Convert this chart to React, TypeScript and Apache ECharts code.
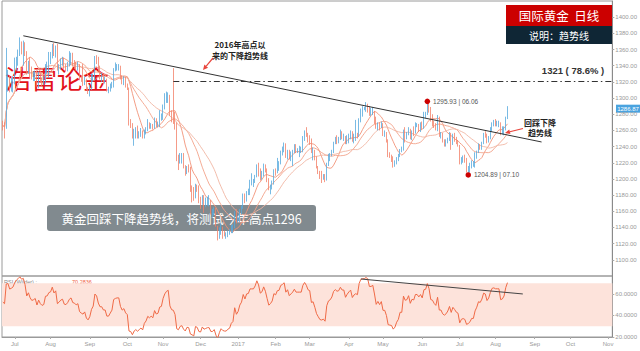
import React, { useEffect, useRef } from "react";
import * as echarts from "echarts";

// Daily gold bars per month: [close, high, low]; open = previous close
const jun16 = [[1266,1272,1260],[1263,1270,1250],[1322,1362,1262],[1324,1335,1308],[1313,1328,1307],[1316,1325,1308],[1321,1327,1307]];
const jul16 = [[1339,1350,1317],[1350,1351,1334],[1357,1360,1340],[1366,1375,1352],[1362,1370,1354],[1366,1371,1340],[1356,1369,1352],[1334,1358,1329],[1344,1346,1330],[1333,1350,1325],[1327,1339,1323],[1329,1333,1321],[1332,1334,1321],[1318,1334,1314],[1330,1333,1312],[1322,1331,1319],[1318,1325,1315],[1320,1327,1316],[1340,1342,1318],[1341,1345,1330],[1350,1357,1325]];
const aug16 = [[1352,1357,1342],[1366,1367,1349],[1356,1368,1352],[1362,1365,1350],[1336,1367,1334],[1340,1342,1329],[1345,1349,1335],[1347,1351,1340],[1337,1350,1336],[1336,1342,1333],[1340,1345,1333],[1347,1358,1339],[1350,1356,1341],[1342,1356,1339],[1341,1347,1336],[1338,1345,1334],[1340,1345,1334],[1326,1342,1322],[1323,1328,1320],[1321,1342,1315],[1324,1327,1316],[1312,1324,1310],[1308,1314,1305]];
const sep16 = [[1312,1316,1302],[1322,1330,1310],[1327,1330,1320],[1350,1352,1322],[1347,1353,1342],[1335,1351,1333],[1328,1340,1323],[1328,1331,1320],[1322,1330,1318],[1322,1327,1318],[1310,1324,1308],[1310,1314,1306],[1314,1318,1308],[1318,1320,1312],[1335,1337,1313],[1337,1344,1333],[1338,1342,1334],[1338,1342,1334],[1326,1340,1323],[1320,1328,1317],[1322,1327,1316],[1315,1326,1313]];
const oct16 = [[1312,1318,1310],[1268,1313,1266],[1266,1274,1263],[1252,1269,1250],[1257,1262,1241],[1259,1264,1250],[1253,1266,1250],[1255,1259,1250],[1257,1263,1252],[1251,1260,1250],[1259,1261,1250],[1262,1264,1255],[1268,1274,1259],[1265,1270,1262],[1267,1269,1262],[1264,1268,1261],[1273,1276,1262],[1267,1275,1264],[1268,1271,1264],[1276,1285,1264],[1277,1281,1272]];
const nov16 = [[1289,1292,1273],[1297,1306,1286],[1302,1308,1294],[1304,1307,1294],[1282,1290,1278],[1275,1285,1270],[1274,1337,1268],[1266,1283,1261],[1225,1270,1222],[1221,1230,1211],[1226,1232,1219],[1227,1232,1219],[1215,1232,1213],[1208,1217,1204],[1213,1216,1206],[1212,1218,1208],[1187,1215,1184],[1183,1192,1171],[1178,1190,1173],[1191,1194,1176],[1188,1193,1184],[1172,1192,1170]];
const dec16 = [[1170,1178,1163],[1177,1180,1168],[1169,1180,1158],[1170,1177,1165],[1171,1178,1167],[1171,1180,1166],[1159,1174,1156],[1159,1163,1152],[1161,1165,1155],[1142,1164,1141],[1127,1142,1124],[1134,1140,1126],[1139,1144,1131],[1133,1141,1126],[1131,1136,1129],[1131,1134,1126],[1133,1136,1128],[1134,1138,1131],[1139,1143,1133],[1141,1144,1133],[1158,1160,1139],[1146,1163,1145]];
const jan17 = [[1150,1152,1146],[1160,1163,1146],[1165,1167,1156],[1180,1182,1163],[1173,1182,1170],[1184,1185,1172],[1185,1188,1180],[1196,1199,1180],[1196,1207,1192],[1196,1200,1190],[1203,1205,1195],[1217,1218,1202],[1212,1220,1203],[1201,1213,1198],[1204,1210,1199],[1216,1219,1203],[1210,1218,1208],[1199,1213,1196],[1187,1201,1186],[1190,1193,1181],[1195,1198,1187],[1211,1212,1193]];
const feb17 = [[1209,1213,1204],[1219,1226,1207],[1220,1222,1210],[1233,1235,1218],[1236,1240,1229],[1241,1245,1233],[1228,1244,1226],[1234,1236,1224],[1225,1236,1224],[1229,1234,1222],[1233,1236,1216],[1240,1243,1232],[1236,1243,1232],[1236,1238,1232],[1236,1241,1227],[1236,1240,1232],[1250,1253,1233],[1257,1260,1247],[1254,1264,1252],[1249,1257,1245]];
const mar17 = [[1248,1254,1242],[1233,1250,1232],[1234,1239,1223],[1226,1236,1223],[1215,1228,1213],[1209,1216,1206],[1203,1210,1200],[1202,1210,1195],[1203,1206,1199],[1199,1206,1196],[1219,1220,1198],[1227,1231,1216],[1229,1232,1222],[1234,1236,1228],[1245,1246,1232],[1249,1252,1243],[1247,1254,1243],[1248,1252,1244],[1255,1261,1249],[1252,1259,1249],[1252,1256,1247],[1244,1253,1243],[1249,1254,1243]];
const apr17 = [[1253,1256,1244],[1256,1260,1249],[1248,1259,1246],[1252,1256,1244],[1254,1273,1247],[1253,1257,1250],[1274,1275,1252],[1285,1287,1270],[1287,1290,1277],[1287,1289,1285],[1290,1295,1283],[1289,1293,1282],[1282,1290,1278],[1282,1288,1278],[1284,1289,1279],[1276,1281,1268],[1264,1277,1262],[1268,1270,1260],[1264,1270,1260],[1268,1271,1263]];
const may17 = [[1256,1269,1253],[1256,1260,1252],[1248,1258,1245],[1229,1249,1227],[1228,1233,1226],[1227,1230,1221],[1218,1228,1214],[1220,1223,1215],[1225,1227,1218],[1228,1231,1222],[1236,1237,1227],[1236,1240,1233],[1260,1261,1235],[1254,1264,1245],[1255,1258,1249],[1262,1264,1254],[1251,1262,1249],[1258,1260,1248],[1257,1265,1253],[1267,1270,1256],[1267,1269,1264],[1264,1268,1258],[1268,1270,1258]];
const jun17 = [[1264,1271,1261],[1279,1283,1262],[1280,1283,1275],[1293,1295.93,1279],[1287,1294,1282],[1272,1289,1271],[1271,1280,1265],[1266,1272,1263],[1263,1269,1260],[1277,1279,1259],[1254,1260,1252],[1254,1258,1250],[1246,1257,1245],[1243,1249,1240],[1245,1249,1240],[1249,1251,1244],[1256,1258,1247],[1245,1257,1236],[1253,1256,1242],[1249,1257,1246],[1244,1252,1243],[1242,1248,1240]];
const jul17 = [[1220,1242,1218],[1225,1227,1218],[1226,1229,1220],[1224,1230,1220],[1212,1226,1208],[1213,1216,1204.89],[1215,1220,1208],[1219,1223,1213],[1219,1222,1215],[1228,1233,1214],[1233,1235,1225],[1241,1244,1232],[1240,1243,1236],[1245,1246,1236],[1255,1257,1243],[1254,1259,1251],[1246,1256,1244],[1250,1253,1245],[1260,1264,1249],[1268,1270,1258],[1269,1273,1265]];
const aug17 = [[1268,1274,1265],[1268,1272,1265],[1268,1272,1264],[1257,1270,1254],[1258,1265,1255],[1262,1265,1254],[1276,1277,1260],[1286.87,1290,1274]];

const MONTHS = [jun16, jul16, aug16, sep16, oct16, nov16, dec16, jan17, feb17, mar17, apr17, may17, jun17, jul17, aug17];
const FIRST_OPEN = 1267;
const START_DATE = [2016, 5, 22];
const END_DATE = [2017, 10, 3];
const MONTH_LABELS = ["", "Feb", "Mar", "Apr", "May", "Jun", "Jul", "Aug", "Sep", "Oct", "Nov", "Dec"];
const MA_PERIODS = [10, 20, 30];
const MA_COLORS = ["#f29378", "#f3a38a", "#f0b5a3"];
const RSI_PERIOD = 14;
const RSI_SEED = [4.5, 4.0]; // prior avg gain / avg loss
const PRICE_TICKS = { min: 1080, max: 1420, interval: 20 };
const RSI_TICKS = { min: 20, max: 76.7, interval: 20 };
const HIGH_POINT = { date: "2017-06-06", value: 1295.93, label: "1295.93 | 06.06" };
const LOW_POINT = { date: "2017-07-10", value: 1204.89, label: "1204.89 | 07.10" };
const FIB = { from: "2016-11-09", value: 1321, label: "1321 ( 78.6% )" };
const TREND_MAIN = [["2016-07-08", 1377], ["2017-09-07", 1245.7]];
const TREND_RSI = [["2017-04-12", 73.9], ["2017-08-23", 60]];
const RSI_LAST_TEXT = "70.2836";

const UP = "#58aadd";
const DOWN = "#f3826a";
const CJK = "'Noto Sans CJK SC', sans-serif";
const LAT = "'Liberation Sans', Arial, sans-serif";

function buildDates(): string[] {
  const out: string[] = [];
  const d = new Date(Date.UTC(START_DATE[0], START_DATE[1], START_DATE[2]));
  const end = Date.UTC(END_DATE[0], END_DATE[1], END_DATE[2]);
  while (d.getTime() <= end) {
    const wd = d.getUTCDay();
    if (wd !== 0 && wd !== 6) out.push(d.toISOString().slice(0, 10));
    d.setUTCDate(d.getUTCDate() + 1);
  }
  return out;
}

function buildOption(tag: any[]): any {
  const dates = buildDates();
  const bars = ([] as number[][]).concat(...MONTHS);
  const closes = bars.map((b) => b[0]);
  const candles = bars.map((b, i) => {
    const o = i === 0 ? FIRST_OPEN : bars[i - 1][0];
    const c = b[0];
    return [o, c, Math.min(b[2], o, c), Math.max(b[1], o, c)];
  });
  const ma = (n: number) =>
    closes.map((_, i) => {
      const s = Math.max(0, i - n + 1);
      let sum = 0;
      for (let j = s; j <= i; j++) sum += closes[j];
      return +(sum / (i - s + 1)).toFixed(2);
    });
  const rsi: number[] = [];
  let ag = RSI_SEED[0], al = RSI_SEED[1];
  for (let i = 0; i < closes.length; i++) {
    const d = i === 0 ? closes[0] - FIRST_OPEN : closes[i] - closes[i - 1];
    ag = (ag * (RSI_PERIOD - 1) + Math.max(d, 0)) / RSI_PERIOD;
    al = (al * (RSI_PERIOD - 1) + Math.max(-d, 0)) / RSI_PERIOD;
    rsi.push(+(100 - 100 / (1 + ag / al)).toFixed(2));
  }
  const isMonthStart = (idx: number) => idx > 0 && dates[idx].slice(5, 7) !== dates[idx - 1].slice(5, 7);
  const monthFmt = (v: string) => {
    const m = +v.slice(5, 7);
    return m === 1 ? v.slice(0, 4) : MONTH_LABELS[m - 1];
  };
  const last = dates[dates.length - 1];

  const arrow = (x1: number, y1: number, x2: number, y2: number) => {
    const L = Math.hypot(x2 - x1, y2 - y1);
    const ux = (x2 - x1) / L, uy = (y2 - y1) / L;
    const bx = x2 - ux * 5, by = y2 - uy * 5;
    const px = -uy * 2.4, py = ux * 2.4;
    return [
      { type: "line", shape: { x1, y1, x2: bx, y2: by }, style: { stroke: "#e8453c", lineWidth: 1.2 } },
      { type: "polygon", shape: { points: [[x2, y2], [bx + px, by + py], [bx - px, by - py]] }, style: { fill: "#e8453c" } },
    ];
  };
  const txt = (text: string, x: number, y: number, font: string, fill: string, align = "center") => ({
    type: "text", x, y, style: { text, font, fill, align, verticalAlign: "middle" },
  });

  const graphics: any[] = [
    txt("浩雷论金", 5, 77, `26px ${CJK}`, "#e3121b", "left"),
    { type: "rect", shape: { x: 506, y: 5, width: 106, height: 21 }, style: { fill: "#cc0000" } },
    txt("国际黄金  日线", 559, 15.5, `12.5px ${CJK}`, "#ffffff"),
    { type: "rect", shape: { x: 506, y: 26, width: 106, height: 18 }, style: { fill: "#0f2635" } },
    txt("说明：趋势线", 559, 35, `10px ${CJK}`, "#ffffff"),
    txt(FIB.label, 573, 70.5, `bold 9.5px ${LAT}`, "#333333"),
    txt("2016年高点以", 240, 44.5, `bold 8px ${CJK}`, "#222222"),
    txt("来的下降趋势线", 240, 55, `bold 8px ${CJK}`, "#222222"),
    ...arrow(213, 58, 203, 70),
    txt("回踩下降", 540, 122, `bold 8px ${CJK}`, "#222222"),
    txt("趋势线", 540, 132.5, `bold 8px ${CJK}`, "#222222"),
    ...arrow(523, 128.5, 505, 133),
    { type: "rect", shape: { x: 47, y: 205, width: 269, height: 26, r: 3 }, style: { fill: "rgba(118,128,133,0.92)" } },
    txt("黄金回踩下降趋势线，将测试今年高点1296", 181.5, 218, `12.5px ${CJK}`, "#ffffff"),
    txt("RSI突破下降趋势线", 571, 294, `bold 7.5px ${CJK}`, "#222222"),
    txt("RSI (Wilder) :", 4, 281.5, `5.5px ${LAT}`, "#888888", "left"),
    txt(RSI_LAST_TEXT, 72, 281.5, `5.5px ${LAT}`, "#f0603c", "left"),
    ...tag,
  ].map((g, i) => ({ id: "g" + i, ...g }));

  return {
    animation: false,
    backgroundColor: "#ffffff",
    textStyle: { fontFamily: LAT },
    grid: [
      { left: 2, right: 25, top: 1, height: 275, show: true, borderColor: "#9a9a9a", borderWidth: 1 },
      { left: 2, right: 25, top: 276, height: 61, show: true, borderColor: "#9a9a9a", borderWidth: 1 },
    ],
    xAxis: [
      { type: "category", gridIndex: 0, data: dates, axisLabel: { show: false }, axisTick: { show: false }, axisLine: { show: false } },
      {
        type: "category", gridIndex: 1, data: dates,
        axisLine: { lineStyle: { color: "#9a9a9a" } },
        axisTick: { show: true, alignWithLabel: true, length: 2, interval: (i: number) => isMonthStart(i), lineStyle: { color: "#aaa" } },
        axisLabel: { interval: (i: number) => isMonthStart(i), formatter: monthFmt, fontSize: 6, color: "#999", margin: 4 },
      },
    ],
    yAxis: [
      {
        type: "value", gridIndex: 0, position: "right", ...PRICE_TICKS, scale: true,
        splitLine: { show: false },
        axisLine: { show: true, lineStyle: { color: "#8a8a8a" } },
        axisTick: { show: true, length: 2, lineStyle: { color: "#aaa" } },
        axisLabel: { fontSize: 6, color: "#999", margin: 3, showMinLabel: false, showMaxLabel: false, formatter: (v: number) => v.toFixed(2) },
      },
      {
        type: "value", gridIndex: 1, position: "right", ...RSI_TICKS,
        splitLine: { show: false },
        axisLine: { show: true, lineStyle: { color: "#8a8a8a" } },
        axisTick: { show: true, length: 2, lineStyle: { color: "#aaa" } },
        axisLabel: { fontSize: 6, color: "#999", margin: 3, showMaxLabel: false, formatter: (v: number) => v.toFixed(4) },
      },
    ],
    series: [
      ...MA_PERIODS.map((n, k) => ({
        type: "line", xAxisIndex: 0, yAxisIndex: 0, data: ma(n), showSymbol: false, silent: true,
        lineStyle: { width: 0.9, color: MA_COLORS[k] }, z: 2,
      })),
      {
        type: "candlestick", xAxisIndex: 0, yAxisIndex: 0, data: candles, barWidth: 1, z: 3,
        itemStyle: { color: UP, color0: DOWN, borderColor: UP, borderColor0: DOWN, borderWidth: 0.8 },
        markLine: {
          silent: true, symbol: ["none", "none"], label: { show: false }, animation: false,
          data: [
            [{ coord: TREND_MAIN[0], lineStyle: { color: "#333", width: 1, type: "solid" } }, { coord: TREND_MAIN[1] }],
            [{ coord: [FIB.from, FIB.value], lineStyle: { color: "#333", width: 1.2, type: [6, 3, 1.5, 3] } }, { coord: [last, FIB.value] }],
          ],
        },
        markPoint: {
          silent: true, symbol: "circle", symbolSize: 5.5, animation: false,
          itemStyle: { color: "#cc0000" },
          label: { show: true, position: "right", distance: 3, fontSize: 6.5, color: "#555" },
          data: [
            { coord: [HIGH_POINT.date, HIGH_POINT.value], label: { formatter: HIGH_POINT.label } },
            { coord: [LOW_POINT.date, LOW_POINT.value], label: { formatter: LOW_POINT.label } },
          ],
        },
      },
      {
        type: "line", xAxisIndex: 1, yAxisIndex: 1, data: rsi, showSymbol: false, silent: true,
        lineStyle: { width: 1, color: "#ef6a46" }, z: 3,
        markArea: { silent: true, itemStyle: { color: "#fde3db" }, data: [[{ yAxis: 30 }, { yAxis: 70 }]] },
        markLine: {
          silent: true, symbol: ["none", "none"], label: { show: false }, animation: false,
          data: [[{ coord: TREND_RSI[0], lineStyle: { color: "#444", width: 1, type: "solid" } }, { coord: TREND_RSI[1] }]],
        },
      },
    ],
    graphic: graphics,
  };
}

export default function App() {
  const ref = useRef<HTMLDivElement>(null);
  useEffect(() => {
    if (!ref.current) return;
    const chart = echarts.init(ref.current, undefined, { renderer: "svg" });
    chart.setOption(buildOption([]));
    const lastClose = aug17[aug17.length - 1][0];
    const py = chart.convertToPixel({ yAxisIndex: 0 }, lastClose) as number;
    const tag = [
      { type: "rect", shape: { x: 616, y: py - 4, width: 24, height: 8 }, style: { fill: "#4aa3df" } },
      { type: "text", x: 628, y: py, style: { text: lastClose.toFixed(2), font: `6px ${LAT}`, fill: "#fff", align: "center", verticalAlign: "middle" } },
    ];
    chart.setOption(buildOption(tag), true);
    return () => chart.dispose();
  }, []);
  return <div ref={ref} style={{ position: "absolute", left: 0, top: 0, width: 640, height: 351 }} />;
}
